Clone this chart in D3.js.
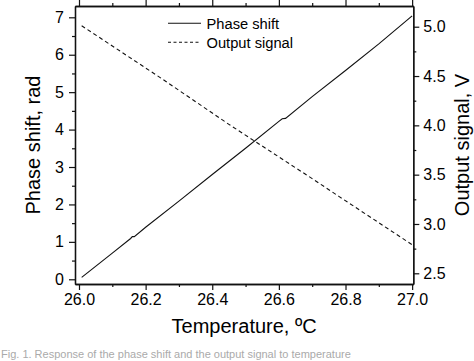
<!DOCTYPE html>
<html>
<head>
<meta charset="utf-8">
<script src="https://cdn.jsdelivr.net/npm/d3@7"></script>
<style>
  html, body { margin: 0; padding: 0; background: #fff; }
  svg { display: block; font-family: Arial, "Liberation Sans", Helvetica, sans-serif; }
</style>
</head>
<body>
<svg id="chart" width="474" height="361"></svg>
<script>
// ---- data ----
const phaseTemp  = [26.008, 26.1, 26.155, 26.16, 26.166, 26.2, 26.3, 26.4, 26.5, 26.6, 26.61, 26.62, 26.7, 26.8, 26.9, 27.0];
const phaseShift = [0.05, 0.70, 1.09, 1.14, 1.14, 1.39, 2.09, 2.80, 3.50, 4.22, 4.29, 4.30, 4.88, 5.58, 6.29, 7.04];
const outTemp    = [26.008, 26.25, 26.45, 26.7, 26.78, 27.0];
const outSignal  = [5.01, 4.47, 4.01, 3.46, 3.28, 2.79];
const xTicks     = [26.0, 26.2, 26.4, 26.6, 26.8, 27.0];
const xMinor     = [26.1, 26.3, 26.5, 26.7, 26.9];
const yLTicks    = [0, 1, 2, 3, 4, 5, 6, 7];
const yLMinor    = [0.5, 1.5, 2.5, 3.5, 4.5, 5.5, 6.5];
const yRTicks    = [2.5, 3.0, 3.5, 4.0, 4.5, 5.0];
const yRMinor    = [2.75, 3.25, 3.75, 4.25, 4.75];
const legendLabels = ["Phase shift", "Output signal"];
const xTitle = "Temperature, \u00BAC";
const yLTitle = "Phase shift, rad";
const yRTitle = "Output signal, V";
const caption = "Fig. 1. Response of the phase shift and the output signal to temperature";

// ---- layout ----
const L = 75, R = 413.3, T = 6, B = 284;
const svg = d3.select("#chart");
svg.append("rect").attr("width", 474).attr("height", 361).attr("fill", "#fff");

const x  = d3.scaleLinear().domain([25.988, 27.0035]).range([L, R]);
const yL = d3.scaleLinear().domain([-0.126, 7.302]).range([B, T]);
const yR = d3.scaleLinear().domain([2.3915, 5.21]).range([B, T]);

const fmt1 = d3.format(".1f");
function styleAxis(g, fs) {
  g.selectAll("path.domain").attr("stroke", "#111").attr("stroke-width", 1.3);
  g.selectAll(".tick line").attr("stroke", "#111").attr("stroke-width", 1.2);
  g.selectAll("text").attr("fill", "#000").style("font-size", fs + "px")
    .style("font-family", "Arial, 'Liberation Sans', sans-serif");
}

// bottom
const gB = svg.append("g").attr("transform", `translate(0,${B})`)
  .call(d3.axisBottom(x).tickValues(xTicks).tickFormat(fmt1).tickSize(6).tickPadding(4).tickSizeOuter(0));
styleAxis(gB, 16);
const gBm = svg.append("g").attr("transform", `translate(0,${B})`)
  .call(d3.axisBottom(x).tickValues(xMinor).tickFormat("").tickSize(3).tickSizeOuter(0));
styleAxis(gBm, 16);
// top
const gT = svg.append("g").attr("transform", `translate(0,${T})`)
  .call(d3.axisTop(x).tickValues(xTicks).tickFormat("").tickSize(6).tickSizeOuter(0));
styleAxis(gT, 16);
const gTm = svg.append("g").attr("transform", `translate(0,${T})`)
  .call(d3.axisTop(x).tickValues(xMinor).tickFormat("").tickSize(3).tickSizeOuter(0));
styleAxis(gTm, 16);
// left
const gL = svg.append("g").attr("transform", `translate(${L},0)`)
  .call(d3.axisLeft(yL).tickValues(yLTicks).tickFormat(d3.format("d")).tickSize(6).tickPadding(5).tickSizeOuter(0));
styleAxis(gL, 16);
const gLm = svg.append("g").attr("transform", `translate(${L},0)`)
  .call(d3.axisLeft(yL).tickValues(yLMinor).tickFormat("").tickSize(3).tickSizeOuter(0));
styleAxis(gLm, 16);
// right
const gR = svg.append("g").attr("transform", `translate(${R},0)`)
  .call(d3.axisRight(yR).tickValues(yRTicks).tickFormat(fmt1).tickSize(6).tickPadding(4).tickSizeOuter(0));
styleAxis(gR, 16);
const gRm = svg.append("g").attr("transform", `translate(${R},0)`)
  .call(d3.axisRight(yR).tickValues(yRMinor).tickFormat("").tickSize(3).tickSizeOuter(0));
styleAxis(gRm, 16);

// lines
const phaseData = phaseTemp.map((t, i) => [t, phaseShift[i]]);
const outData = outTemp.map((t, i) => [t, outSignal[i]]);
svg.append("path").datum(phaseData)
  .attr("fill", "none").attr("stroke", "#111").attr("stroke-width", 1.1)
  .attr("d", d3.line().x(d => x(d[0])).y(d => yL(d[1])));
svg.append("path").datum(outData)
  .attr("fill", "none").attr("stroke", "#111").attr("stroke-width", 1.1)
  .attr("stroke-dasharray", "4,3")
  .attr("d", d3.line().x(d => x(d[0])).y(d => yR(d[1])));

// legend
const leg = svg.append("g");
[[23.3, null], [42.3, "3,2.5"]].forEach((s, i) => {
  leg.append("line").attr("x1", 168).attr("x2", 201).attr("y1", s[0]).attr("y2", s[0])
    .attr("stroke", "#111").attr("stroke-width", 1.1)
    .attr("stroke-dasharray", s[1]);
  leg.append("text").attr("x", 206.5).attr("y", s[0] + 5.2)
    .style("font-size", "14.7px").attr("fill", "#000").text(legendLabels[i]);
});

// titles
svg.append("text").attr("x", (L + R) / 2).attr("y", 333).attr("text-anchor", "middle")
  .style("font-size", "20px").attr("fill", "#000").text(xTitle);
svg.append("text").attr("transform", `translate(40,${(T + B) / 2}) rotate(-90)`)
  .attr("text-anchor", "middle").style("font-size", "20px").attr("fill", "#000").text(yLTitle);
svg.append("text").attr("transform", `translate(469,${(T + B) / 2}) rotate(-90)`)
  .attr("text-anchor", "middle").style("font-size", "20px").attr("fill", "#000").text(yRTitle);

// caption (faint, at the bottom edge)
svg.append("text").attr("x", 1).attr("y", 357.5)
  .style("font-size", "11px").attr("fill", "#aaa").text(caption);
</script>
</body>
</html>
